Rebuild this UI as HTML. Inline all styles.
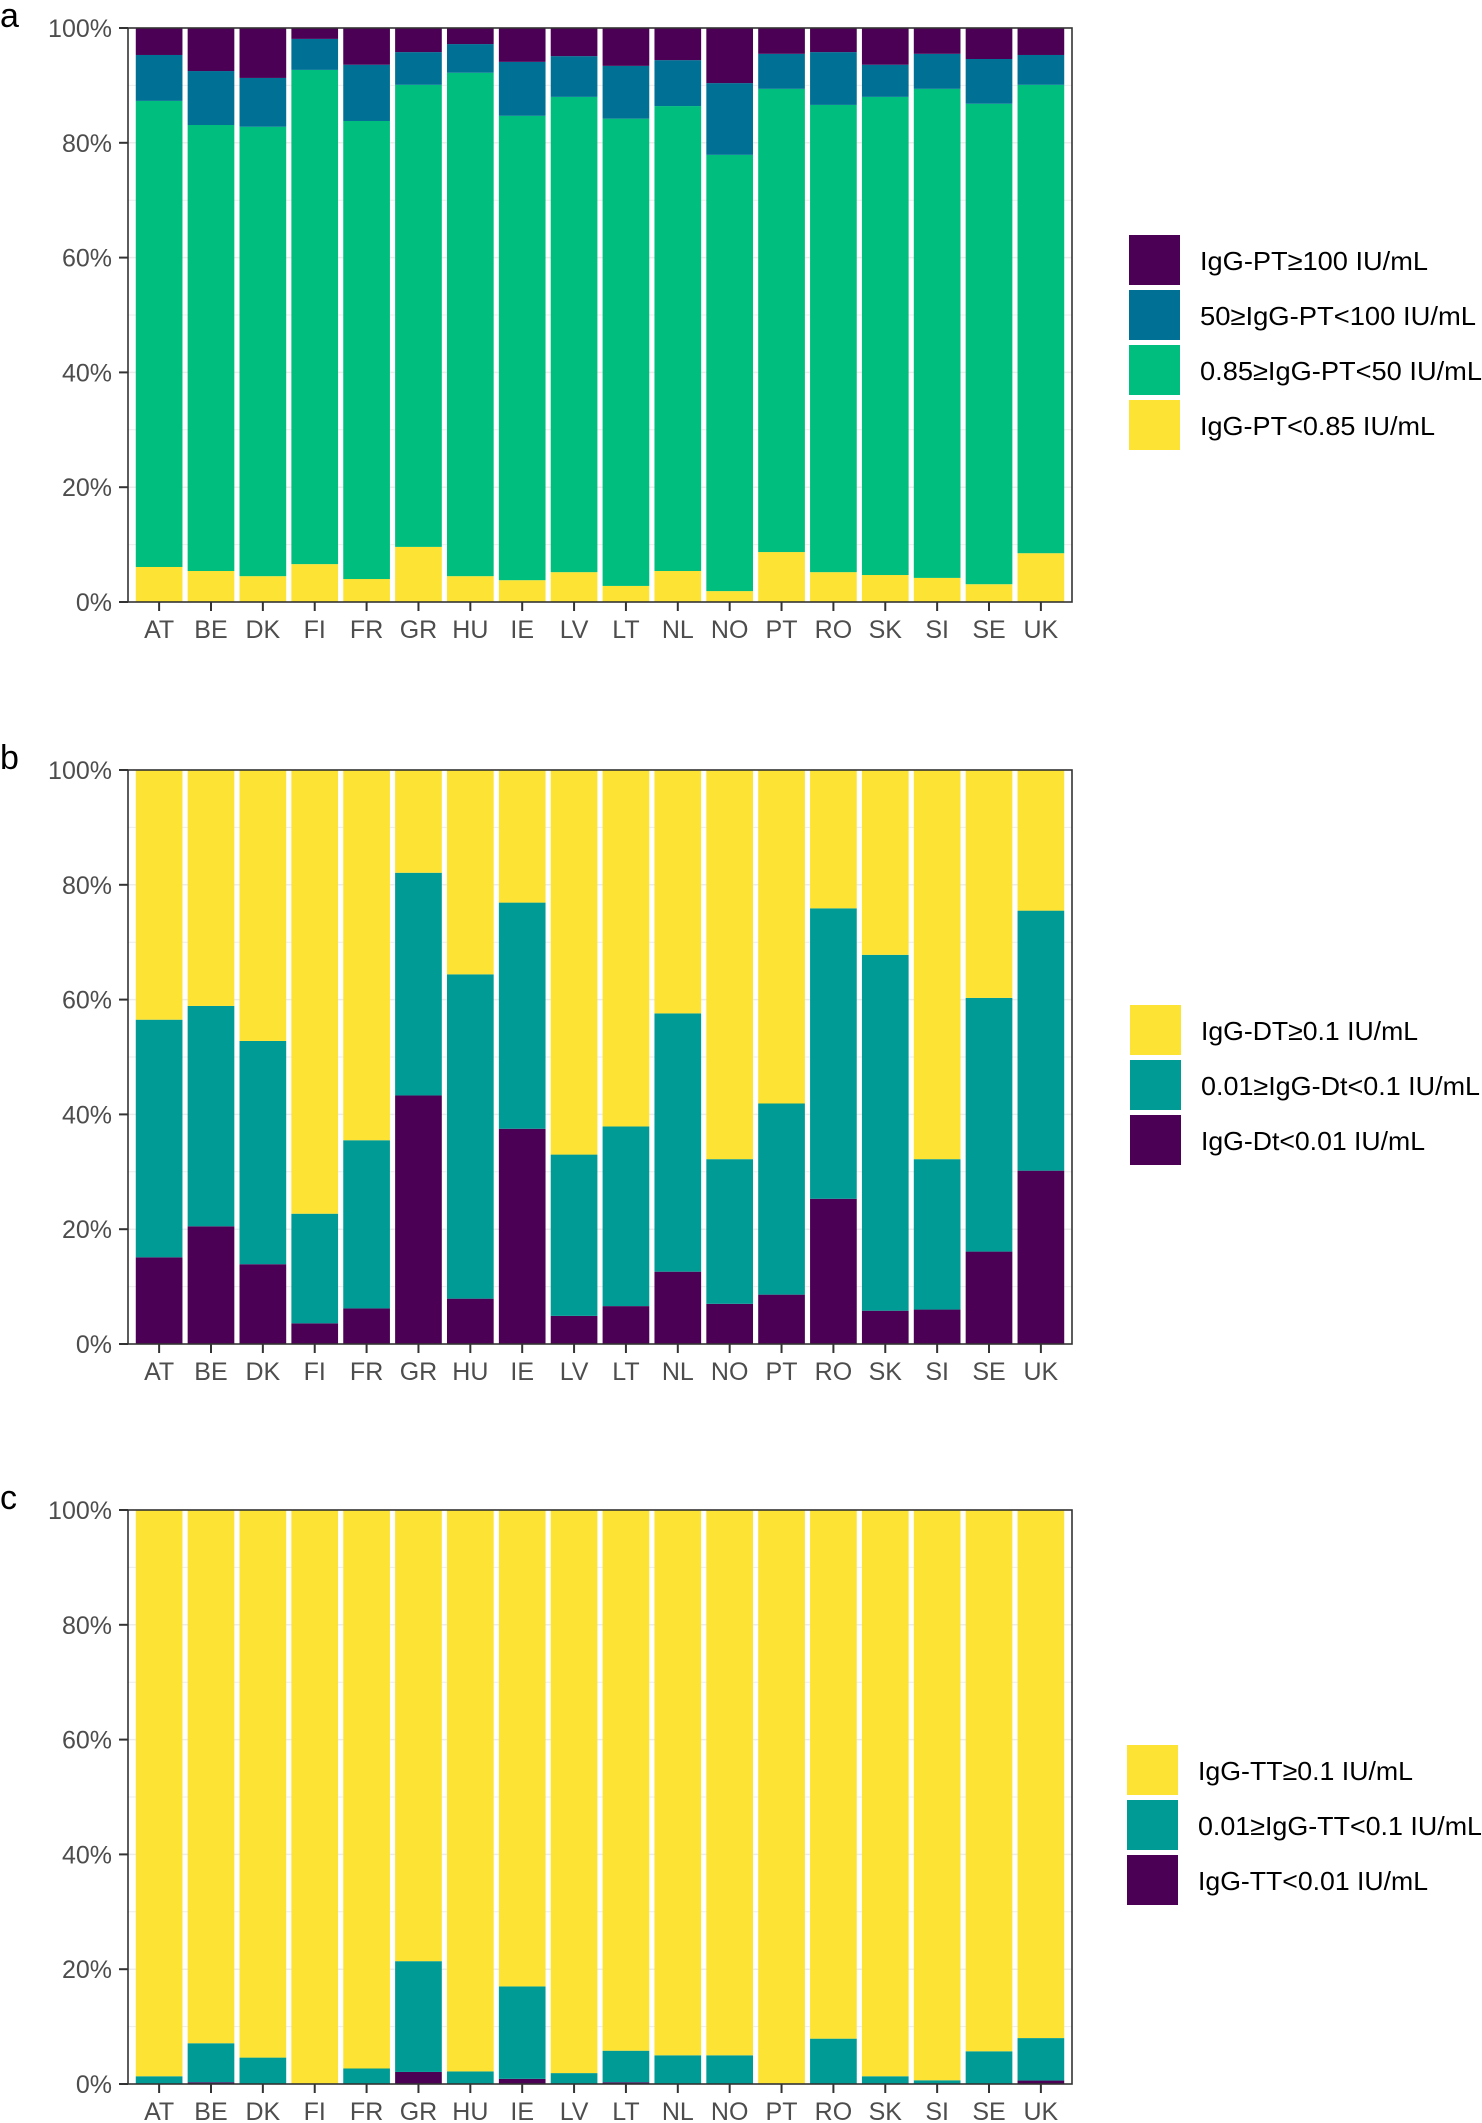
<!DOCTYPE html>
<html><head><meta charset="utf-8"><style>
html,body{margin:0;padding:0;background:#fff;}
svg{display:block;font-family:"Liberation Sans",Arial,sans-serif;}
</style></head><body>
<svg id="fig" width="1482" height="2123" viewBox="0 0 1482 2123" xmlns="http://www.w3.org/2000/svg"></svg>
<script>
const countries = ["AT","BE","DK","FI","FR","GR","HU","IE","LV","LT","NL","NO","PT","RO","SK","SI","SE","UK"];
// Panel a: cumulative tops (%) of each stacked layer from bottom
const ptLow  = [6.1,5.4,4.5,6.6,4.0,9.6,4.5,3.8,5.2,2.8,5.4,1.9,8.7,5.2,4.7,4.2,3.1,8.5];
const ptMid  = [87.3,83.1,82.8,92.7,83.8,90.1,92.2,84.7,88.0,84.2,86.4,77.9,89.4,86.6,88.0,89.4,86.8,90.1];
const ptHigh = [95.3,92.5,91.3,98.1,93.6,95.8,97.2,94.1,95.1,93.4,94.4,90.4,95.5,95.8,93.6,95.5,94.6,95.3];
// Panel b
const dtLow = [15.1,20.5,13.9,3.6,6.2,43.3,7.9,37.5,4.9,6.6,12.6,7.0,8.6,25.3,5.8,6.0,16.1,30.2];
const dtMid = [56.5,58.9,52.8,22.7,35.5,82.1,64.4,76.9,33.0,37.9,57.6,32.2,41.9,75.9,67.8,32.2,60.3,75.5];
// Panel c
const ttLow = [0,0.3,0,0,0,2.1,0,0.9,0,0.3,0,0,0,0,0,0,0,0.6];
const ttMid = [1.35,7.1,4.6,0.1,2.7,21.4,2.2,17.0,1.9,5.8,5.0,5.0,0.1,7.9,1.35,0.65,5.7,8.0];
const yTicks = [0,20,40,60,80,100];
const legA = ["IgG-PT≥100 IU/mL","50≥IgG-PT<100 IU/mL","0.85≥IgG-PT<50 IU/mL","IgG-PT<0.85 IU/mL"];
const legB = ["IgG-DT≥0.1 IU/mL","0.01≥IgG-Dt<0.1 IU/mL","IgG-Dt<0.01 IU/mL"];
const legC = ["IgG-TT≥0.1 IU/mL","0.01≥IgG-TT<0.1 IU/mL","IgG-TT<0.01 IU/mL"];

const NS="http://www.w3.org/2000/svg";
const svg=document.getElementById('fig');
function mk(tag,parent,attrs){const e=document.createElementNS(NS,tag);for(const k in attrs)e.setAttribute(k,attrs[k]);parent.appendChild(e);return e;}
const L=128,R=1072,H=574;
const unit=(R-L)/(countries.length+0.2);
function xc(i){return L+unit*(0.6+i);}

function panel(letter,top,layers,colors,names,legTop,legX,legW){
  const g=mk('g',svg,{});
  
  
  const y=v=>top+H-(v/100)*H;
  const lab=mk('text',g,{x:0,y:top-1,'font-size':34,fill:'#000'});
  
  
  lab.textContent=letter;
  for(let v=10;v<100;v+=10){const gl=mk('line',g,{x1:L,x2:R,y1:y(v),y2:y(v),stroke:'#ebebeb','stroke-width':v%20?1:1.5});
    
    }
  const bw=unit*0.9;
  countries.forEach((c,i)=>{
    let prev=0;
    layers.forEach((arr,k)=>{
      const v=arr===null?100:arr[i];
      const r=mk('rect',g,{x:xc(i)-bw/2,y:y(v),width:bw,height:Math.max(0,y(prev)-y(v)),fill:colors[k]});
      
      
      prev=v;
    });
    const tk=mk('line',g,{x1:xc(i),x2:xc(i),y1:top+H,y2:top+H+9,stroke:'#333','stroke-width':2});
    
    
    const t=mk('text',g,{x:xc(i),y:top+H+36,'font-size':25,fill:'#4d4d4d','text-anchor':'middle'});
    
    
    t.textContent=c;
  });
  yTicks.forEach(v=>{
    const tk=mk('line',g,{x1:L-9,x2:L,y1:y(v),y2:y(v),stroke:'#333','stroke-width':2});
    
    
    const t=mk('text',g,{x:L-16,y:y(v)+9,'font-size':25,fill:'#4d4d4d','text-anchor':'end'});
    
    
    t.textContent=v+'%';
  });
  const b=mk('rect',g,{x:L,y:top,width:R-L,height:H,fill:'none',stroke:'#333','stroke-width':1.6});
  
  
  const lg=mk('g',g,{});
  
  
  names.forEach((n,k)=>{
    const ky=legTop+k*55;
    const col=colors[colors.length-1-k];
    const r=mk('rect',lg,{x:legX,y:ky,width:51,height:50,fill:col});
    
    
    const t=mk('text',lg,{x:legX+71,y:ky+35,'font-size':26,fill:'#000',textLength:legW[k],lengthAdjust:'spacingAndGlyphs'});
    
    
    t.textContent=n;
  });
}
panel('a',28,[ptLow,ptMid,ptHigh,null],['#FDE333','#00BE7D','#007094','#4B0055'],legA,235,1129,[228,276,282,235]);
panel('b',770,[dtLow,dtMid,null],['#4B0055','#009B95','#FDE333'],legB,1005,1130,[217,279,224]);
panel('c',1510,[ttLow,ttMid,null],['#4B0055','#009B95','#FDE333'],legC,1745,1127,[215,284,230]);
</script>
</body></html>
